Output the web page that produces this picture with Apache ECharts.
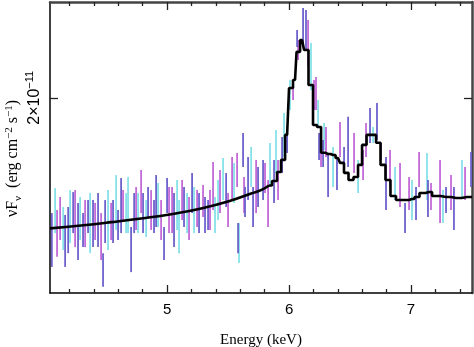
<!DOCTYPE html>
<html>
<head>
<meta charset="utf-8">
<script src="https://cdn.jsdelivr.net/npm/echarts@6/dist/echarts.min.js"></script>
<style>html,body{margin:0;padding:0;background:#fff}#c{width:474px;height:347px}</style>
</head>
<body>
<div id="c"></div>
<script>
// Energy (keV), lower, upper  (flux in units of 1e-11 erg cm^-2 s^-1)
var violetData = [
[4.055,1.097,1.328],[4.164,1.097,1.319],[4.189,1.152,1.357],[4.230,1.237,1.431],[4.270,1.124,1.377],
[4.311,1.177,1.328],[4.352,1.237,1.391],[4.393,1.177,1.391],[4.434,1.177,1.426],[4.475,1.022,1.152],
[4.492,1.194,1.391],[4.557,1.194,1.391],[4.598,1.207,1.343],[4.623,1.237,1.504],[4.705,1.077,1.264],
[4.730,1.237,1.426],[4.803,1.237,1.426],[4.844,1.310,1.457],[4.893,1.237,1.391],[4.910,1.264,1.520],
[4.975,1.124,1.264],[5.000,1.328,1.504],[5.057,1.177,1.426],[5.139,1.264,1.457],[5.205,1.328,1.531],
[5.262,1.237,1.426],[5.311,1.237,1.406],[5.336,1.251,1.391],[5.484,1.357,1.531],[5.582,1.152,1.282],
[5.623,1.564,1.765],[5.639,1.310,1.457],[5.664,1.391,1.621],[5.705,1.264,1.457],[5.746,1.357,1.564],
[5.787,1.391,1.604],[5.877,1.377,1.604],[5.943,1.531,1.740],[5.984,1.644,1.803],[6.066,2.395,2.544],
[6.115,2.429,2.751],[6.139,2.370,2.732],[6.246,1.604,1.765],[6.279,1.564,1.722],[6.320,1.406,1.644],
[6.393,1.441,1.621],[6.451,1.531,1.680],[6.484,1.564,1.869],[6.664,1.703,1.929],[6.721,1.722,1.963],
[6.795,1.343,1.621],[6.951,1.237,1.377],[7.041,1.296,1.457],[7.139,1.310,1.494],[7.287,1.328,1.457],
[7.352,1.251,1.457],[7.492,1.457,1.650]
];
var cyanData = [
[4.082,1.237,1.451],[4.148,1.165,1.357],[4.205,1.194,1.441],[4.287,1.207,1.406],[4.369,1.152,1.426],
[4.516,1.165,1.441],[4.582,1.251,1.520],[4.664,1.237,1.426],[4.680,1.237,1.509],[4.762,1.237,1.426],
[4.828,1.220,1.391],[4.926,1.264,1.478],[5.082,1.251,1.494],[5.098,1.152,1.391],[5.164,1.237,1.426],
[5.221,1.237,1.457],[5.393,1.237,1.406],[5.418,1.296,1.494],[5.459,1.391,1.615],[5.549,1.377,1.586],
[5.590,1.112,1.282],[5.689,1.457,1.680],[5.844,1.457,1.703],[5.893,1.531,1.784],[5.959,1.621,1.895],
[6.008,1.915,2.130],[6.180,2.056,2.429],[6.238,1.803,1.984],[6.287,1.662,1.829],[6.361,1.457,1.680],
[6.566,1.426,1.604],[6.689,1.703,1.803],[6.869,1.391,1.564],[7.008,1.296,1.494],[7.131,1.391,1.644],
[7.262,1.282,1.441],[7.418,1.406,1.604]
];
var magentaData = [
[4.098,1.137,1.343],[4.123,1.207,1.406],[4.246,1.177,1.441],[4.328,1.177,1.391],[4.410,1.207,1.377],
[4.459,1.124,1.328],[4.541,1.207,1.377],[4.639,1.296,1.441],[4.746,1.251,1.457],[4.787,1.328,1.548],
[4.869,1.251,1.441],[4.951,1.207,1.391],[5.016,1.237,1.457],[5.041,1.237,1.457],[5.123,1.296,1.494],
[5.180,1.207,1.406],[5.246,1.264,1.441],[5.295,1.310,1.467],[5.352,1.251,1.441],[5.377,1.343,1.592],
[5.434,1.328,1.548],[5.500,1.264,1.426],[5.533,1.391,1.621],[5.574,1.457,1.644],[5.631,1.328,1.509],
[5.730,1.328,1.604],[5.803,1.426,1.586],[5.828,1.264,1.494],[5.910,1.391,1.604],[6.033,1.984,2.130],
[6.074,2.287,2.455],[6.156,2.232,2.636],[6.205,1.915,2.130],[6.221,1.915,2.153],[6.262,1.564,1.644],
[6.303,1.621,1.803],[6.418,1.621,1.835],[6.533,1.531,1.765],[6.607,1.494,1.662],[6.631,1.621,1.829],
[6.754,1.604,1.703],[6.828,1.457,1.662],[6.910,1.357,1.586],[6.984,1.343,1.509],[7.066,1.457,1.650],
[7.164,1.343,1.478],[7.238,1.282,1.604],[7.328,1.343,1.520],[7.443,1.391,1.564]
];
// model: smooth continuum and binned (step) line region
var modelContinuum = [
[4.040,1.258],[4.295,1.271],[4.541,1.286],[4.787,1.303],[5.033,1.323],[5.279,1.350],[5.525,1.389],
[5.689,1.424],[5.770,1.441],[5.836,1.465]
];
var modelLines = [
[5.836,1.465],[5.885,1.488],[5.918,1.537],[5.951,1.604],[5.984,1.753],
[6.016,2.071],[6.049,2.130],[6.074,2.354],[6.107,2.455],[6.139,2.370],[6.180,2.093],[6.213,1.816],
[6.246,1.803],[6.279,1.645],[6.320,1.638],[6.361,1.632],[6.402,1.615],[6.434,1.587],[6.467,1.532],
[6.508,1.494],[6.549,1.510],[6.582,1.576],[6.615,1.692],[6.656,1.753],[6.697,1.753],[6.730,1.705],
[6.770,1.576],[6.811,1.494],[6.852,1.411],[6.902,1.391],[6.959,1.391],[7.008,1.396],[7.049,1.406],
[7.090,1.426],[7.148,1.431],[7.197,1.411],[7.287,1.406],[7.369,1.401],[7.459,1.406],[7.500,1.406]
];
var xMajor = [5, 6, 7];
var xMinor = [4.2,4.4,4.6,4.8,5.2,5.4,5.6,5.8,6.2,6.4,6.6,6.8,7.2,7.4];
var yTicks = [2];

var X_MIN = 4.04, X_MAX = 7.5, Y_MIN = 1.0, Y_MAX = 2.81;
var SANS = "'Liberation Sans', Arial, Helvetica, sans-serif";
var SERIF = "'Liberation Serif', 'Times New Roman', Times, serif";

function errSeries(data, color) {
  return {
    type: 'custom', data: data, xAxisIndex: 0, yAxisIndex: 0, clip: true, z: 2,
    encode: {x: 0, y: [1, 2]},
    renderItem: function (params, api) {
      var a = api.coord([api.value(0), api.value(1)]);
      var b = api.coord([api.value(0), api.value(2)]);
      return {type: 'line', shape: {x1: a[0], y1: a[1], x2: b[0], y2: b[1]},
              style: {stroke: color, lineWidth: 1.8}};
    }
  };
}

function xAx(pos, vals, len, show, line) {
  return {
    type: 'value', min: X_MIN, max: X_MAX, position: pos,
    axisLine: {show: line, onZero: false, lineStyle: {color: pos === 'top' ? '#444' : '#000', width: pos === 'top' ? 2.5 : 1.5}},
    axisTick: {show: true, inside: true, length: len, customValues: vals, lineStyle: {color: '#222', width: 1.3}},
    axisLabel: {show: show, customValues: vals, fontFamily: SANS, fontSize: 15, color: '#000', margin: 9},
    splitLine: {show: false}
  };
}

var chart = echarts.init(document.getElementById('c'), null, {renderer: 'canvas'});
var xAxes = [
  xAx('bottom', xMajor, 8, true, true),
  xAx('bottom', xMinor, 4, false, false),
  xAx('top', xMajor, 8, false, true),
  xAx('top', xMinor, 4, false, false)
];
xAxes[0].name = 'Energy (keV)';
xAxes[0].nameLocation = 'middle';
xAxes[0].nameGap = 40;
xAxes[0].nameMoveOverlap = false;
xAxes[0].nameTextStyle = {fontFamily: SERIF, fontSize: 15, color: '#000'};

chart.setOption({
  animation: false,
  backgroundColor: '#fff',
  textStyle: {fontFamily: SANS},
  grid: {left: 50, right: 2, top: 2, bottom: 54, containLabel: false, outerBoundsMode: 'none'},
  xAxis: xAxes,
  yAxis: [
    {
      type: 'log', logBase: 10, min: Y_MIN, max: Y_MAX, position: 'left',
      axisLine: {show: true, onZero: false, lineStyle: {color: '#000', width: 1.5}},
      axisTick: {show: true, inside: true, length: 8, customValues: yTicks, lineStyle: {color: '#222', width: 1.3}},
      axisLabel: {show: true, customValues: yTicks, rotate: 90, margin: 7,
        formatter: function () { return '{a|2×10}{s|−11}'; },
        rich: {a: {fontFamily: SANS, fontSize: 16, color: '#000', lineHeight: 19, verticalAlign: 'bottom'},
               s: {fontFamily: SANS, fontSize: 11, color: '#000', lineHeight: 19, verticalAlign: 'top'}}},
      splitLine: {show: false}, minorTick: {show: false},
      name: '{a|νF}{b|ν}{a|  (erg cm}{s|−2}{a| s}{s|−1}{a|)}',
      nameLocation: 'middle', nameRotate: 90, nameGap: 29, nameMoveOverlap: false,
      nameTextStyle: {padding: [0, 22, 0, 0],
        rich: {a: {fontFamily: SERIF, fontSize: 16, color: '#000', lineHeight: 17, verticalAlign: 'bottom'},
               b: {fontFamily: SERIF, fontSize: 11, color: '#000', lineHeight: 17, verticalAlign: 'bottom', padding: [0, 0, -3, 0]},
               s: {fontFamily: SERIF, fontSize: 11, color: '#000', lineHeight: 17, verticalAlign: 'top'}}}
    },
    {
      type: 'log', logBase: 10, min: Y_MIN, max: Y_MAX, position: 'right',
      axisLine: {show: true, onZero: false, lineStyle: {color: '#444', width: 2.5}},
      axisTick: {show: true, inside: true, length: 8, customValues: yTicks, lineStyle: {color: '#222', width: 1.3}},
      axisLabel: {show: false}, splitLine: {show: false}
    }
  ],
  series: [
    errSeries(cyanData, '#86e2e8'),
    errSeries(magentaData, '#c36ad8'),
    errSeries(violetData, '#6d62cc'),
    {
      type: 'line', data: modelContinuum, xAxisIndex: 0, yAxisIndex: 0, smooth: true,
      showSymbol: false, symbol: 'none', z: 5,
      lineStyle: {color: '#000', width: 2.6}
    },
    {
      type: 'line', data: modelLines, xAxisIndex: 0, yAxisIndex: 0, step: 'middle',
      showSymbol: false, symbol: 'none', z: 5,
      lineStyle: {color: '#000', width: 2.6}
    }
  ]
});
</script>
</body>
</html>
